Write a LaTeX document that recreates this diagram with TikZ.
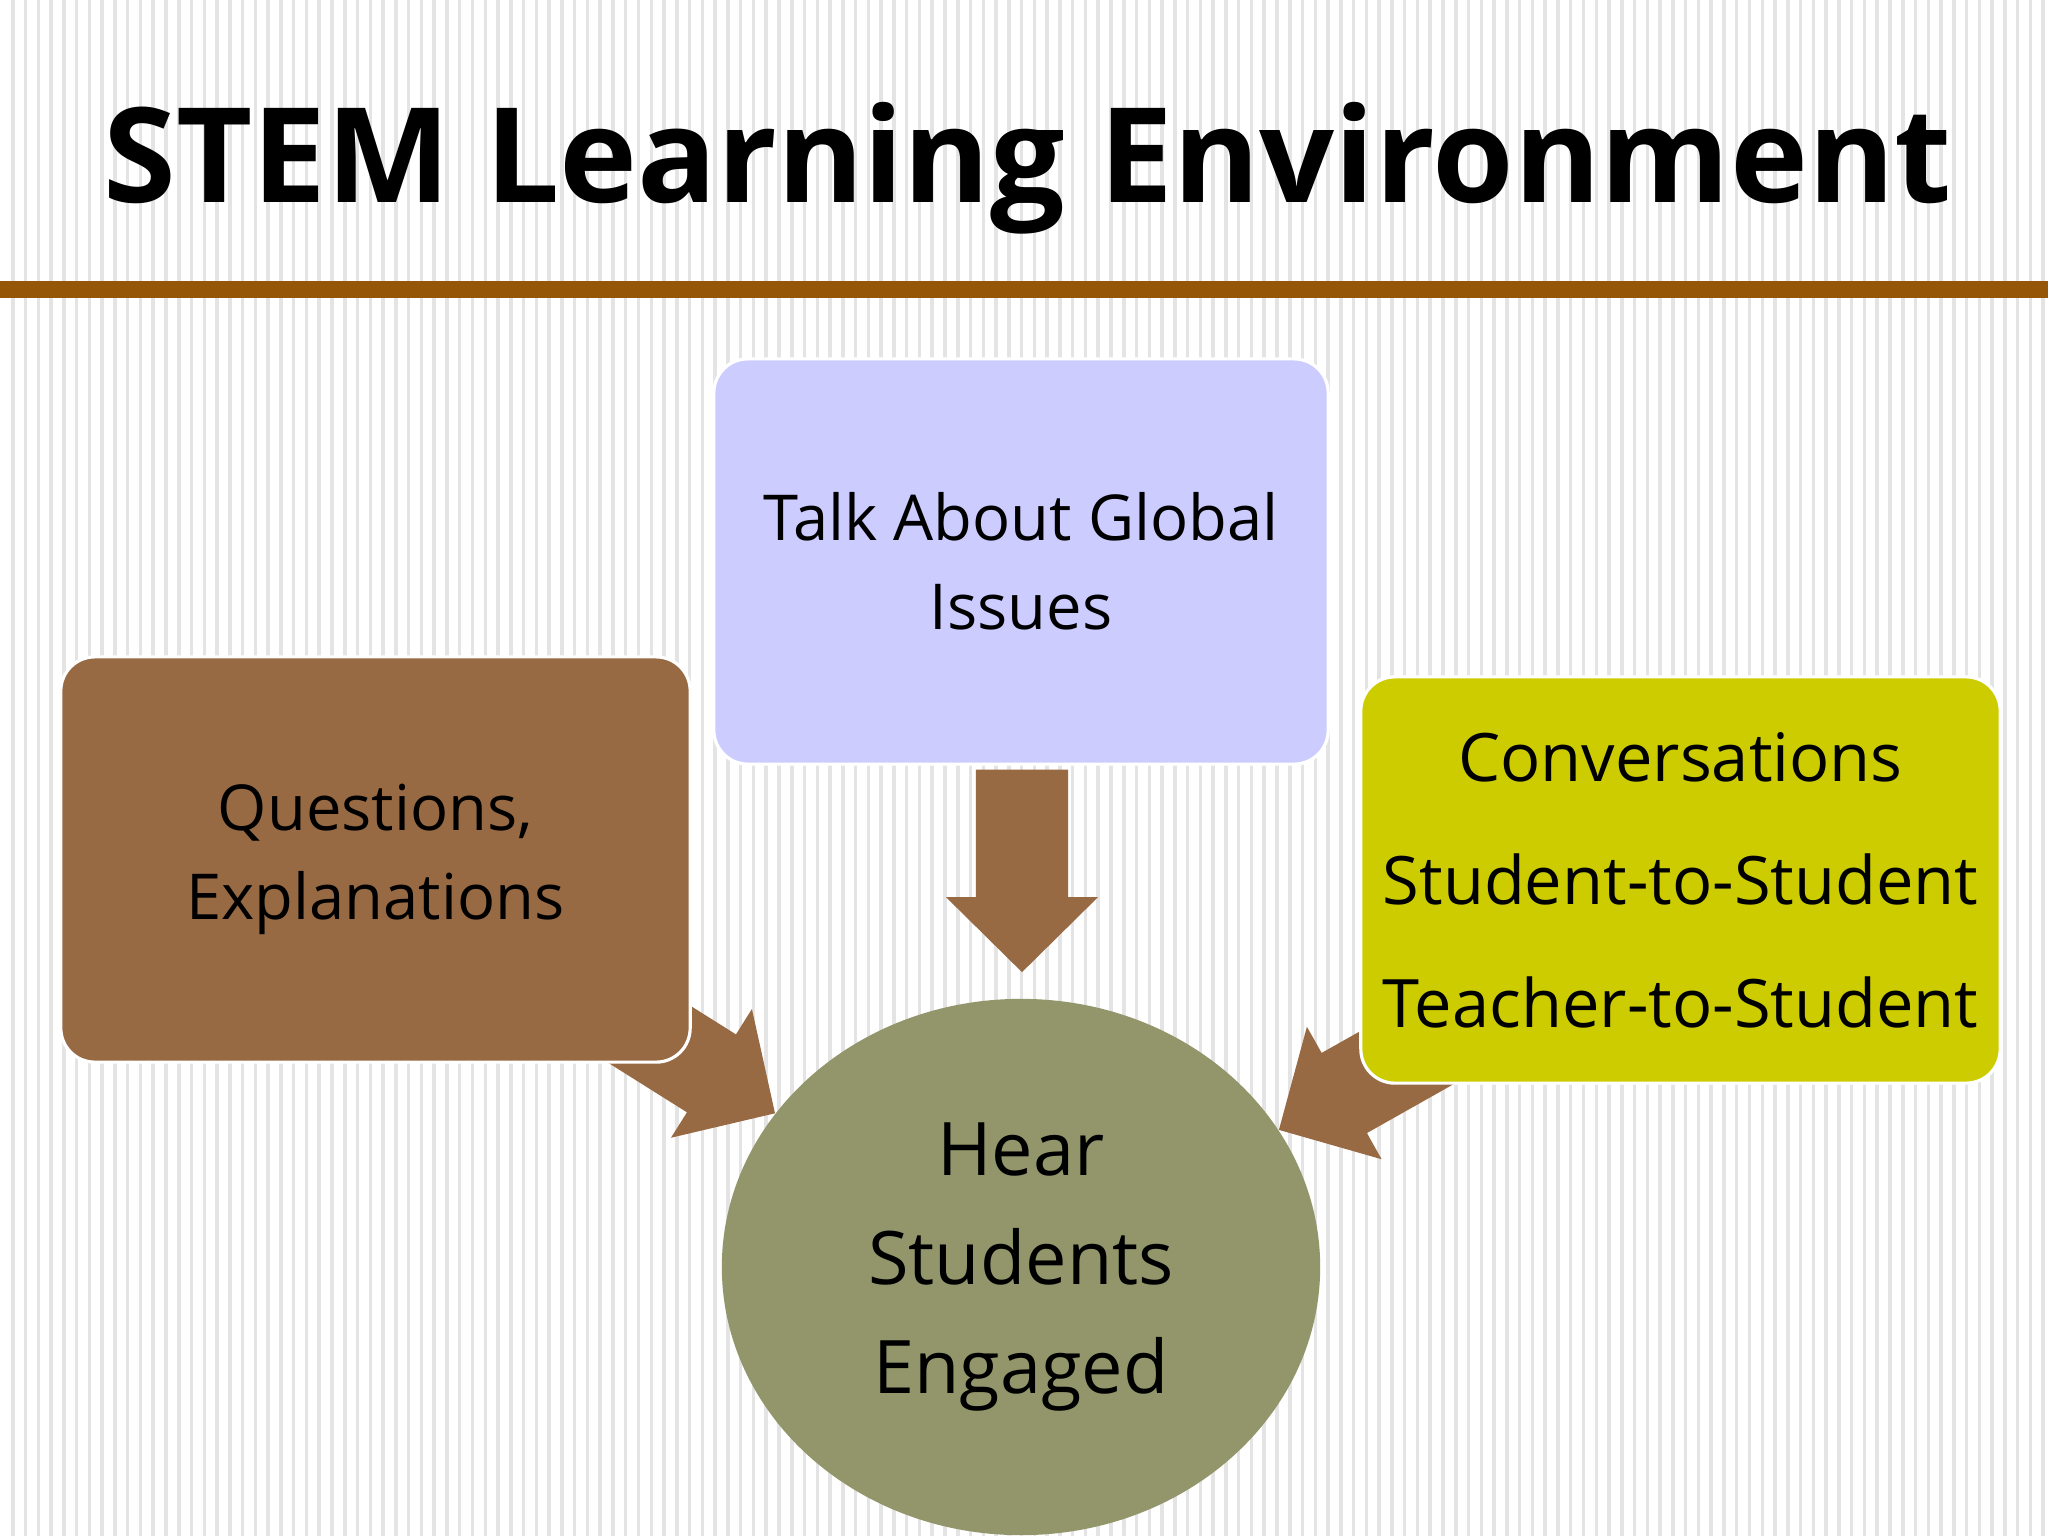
\documentclass[tikz,border=0pt]{standalone}
\usepackage{fontspec}
\setmainfont{Open Sans}
\usetikzlibrary{calc,shapes.geometric}
\definecolor{stripecol}{RGB}{228,228,228}
\definecolor{rulecol}{RGB}{150,86,8}
\definecolor{lavcol}{RGB}{204,204,255}
\definecolor{browncol}{RGB}{152,106,68}
\definecolor{yelcol}{RGB}{204,204,0}
\definecolor{olivecol}{RGB}{146,150,106}
\pgfdeclarelayer{bg}
\pgfdeclarelayer{mid}
\pgfsetlayers{bg,mid,main}
\newcommand\blockarrow[2]{%
  \path (#2) coordinate (ba-tip) ($(#2)!0.75cm!(#1)$) coordinate (ba-hb) (#1) coordinate (ba-tail);
  \fill[browncol] ($(ba-tail)!0.46cm!90:(ba-tip)$) -- ($(ba-hb)!0.46cm!90:(ba-tip)$)
    -- ($(ba-hb)!0.76cm!90:(ba-tip)$) -- (ba-tip) -- ($(ba-hb)!0.76cm!-90:(ba-tip)$)
    -- ($(ba-hb)!0.46cm!-90:(ba-tip)$) -- ($(ba-tail)!0.46cm!-90:(ba-tip)$) -- cycle;}
\tikzset{
  stripe/.style={draw=stripecol, line width=1pt},
  boxnode/.style={rectangle, rounded corners=0.34cm, draw=white, line width=0.9pt,
    align=center, inner sep=0pt, font=\fontsize{18}{25.3}\selectfont},
}
\begin{document}
\begin{tikzpicture}[x=0.01cm,y=-0.01cm]
\useasboundingbox (0,0) rectangle (2048,1536);
\begin{pgfonlayer}{bg}
\fill[white] (0,0) rectangle (2048,1536);
\foreach \i in {1,...,160} \draw[stripe] (\i*12.77,0) -- (\i*12.77,1536);
\fill[rulecol] (0,281) rectangle (2048,298);
\end{pgfonlayer}
\node[anchor=base, font=\bfseries\fontsize{37.5}{42}\selectfont] (title) at (1028,202) {STEM Learning Environment};
\node[boxnode, fill=lavcol, minimum width=6.14cm, minimum height=4.05cm] (top) at (1021,561.5) {Talk About Global\\Issues};
\node[boxnode, fill=browncol, minimum width=6.29cm, minimum height=4.05cm] (left) at (375.5,859.5) {Questions,\\Explanations};
\node[boxnode, fill=yelcol, minimum width=6.39cm, minimum height=4.06cm, font=\fontsize{19}{35}\selectfont] (right) at (1680.5,880) {Conversations\\Student-to-Student\\Teacher-to-Student};
\node[ellipse, fill=olivecol, minimum width=5.98cm, minimum height=5.36cm, inner sep=0pt, align=center, font=\fontsize{21}{31}\selectfont] (circ) at (1021,1267) {Hear\\Students\\Engaged};
\coordinate (dtail) at ($(top.south)+(1,4)$);
\coordinate (dtip) at ($(circ.north)+(1,-26)$);
\coordinate (ltail) at ($(left.south east)+(-107,-70)$);
\coordinate (rtail) at ($(right.south west)+(122,-69)$);
\begin{pgfonlayer}{mid}
\blockarrow{dtail}{dtip}
\blockarrow{ltail}{circ.148.5}
\blockarrow{rtail}{circ.28}
\end{pgfonlayer}
\end{tikzpicture}
\end{document}
